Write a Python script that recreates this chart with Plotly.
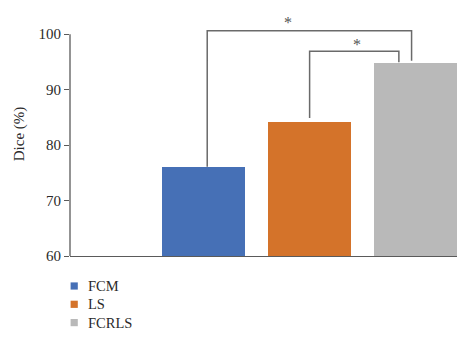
import plotly.graph_objects as go

# Dice scores per segmentation method
methods = ["FCM", "LS", "FCRLS"]
dice = [76.1, 84.1, 94.8]
colors = ["#4670b6", "#d4732a", "#b9b9b9"]
yticks = [60, 70, 80, 90, 100]

# Significance brackets: left method, right method, bar height, left foot, right foot,
# star x position and star baseline
brackets = [
    dict(a="FCM", b="FCRLS", top=100.6, ya=76.1, yb=95.2, sx=1.792, sy=100.27),
    dict(a="LS", b="FCRLS", top=96.9, ya=84.9, yb=94.95, sx=2.444, sy=96.24),
]

pos = {m: i + 1 for i, m in enumerate(methods)}
fig = go.Figure()

for m, v, c in zip(methods, dice, colors):
    fig.add_trace(go.Bar(x=[pos[m]], y=[v], width=0.784, marker_color=c, name=m,
                         marker_line_width=0, showlegend=False, hoverinfo="skip"))

font = "Liberation Serif"
line_col = "#5a5a5a"
txt_col = "#2a2a2a"

# left axis line drawn only up to the top tick
fig.add_shape(type="line", xref="paper", yref="y", x0=0, x1=0, y0=60, y1=100,
              line=dict(color=line_col, width=1.3))

for br in brackets:
    if br["a"] == "FCM":
        xa, xb = pos[br["a"]] + 0.033, pos[br["b"]] - 0.037
    else:
        xa, xb = pos[br["a"]], pos[br["b"]] - 0.157
    fig.add_trace(go.Scatter(x=[xa, xa, xb, xb],
                             y=[br["ya"], br["top"], br["top"], br["yb"]], mode="lines",
                             line=dict(color="#6a6a6a", width=1.5), showlegend=False,
                             hoverinfo="skip"))
    fig.add_annotation(x=br["sx"], y=br["sy"], text="*", showarrow=False,
                       yanchor="bottom", font=dict(family=font, size=16, color="#555555"))

# legend below the axes: small square swatch + label per method
plot_w, plot_h = 474 - 70 - 17, 345 - 12 - 89
for i, (m, c) in enumerate(zip(methods, colors)):
    cy = (256 - (286 + 18.3 * i)) / plot_h
    half = 3.6 / plot_h
    fig.add_shape(type="rect", xref="paper", yref="paper",
                  x0=0.6 / plot_w, x1=7.8 / plot_w, y0=cy - half, y1=cy + half,
                  fillcolor=c, line_width=0)
    fig.add_annotation(xref="paper", yref="paper", x=16 / plot_w, y=cy, text=m,
                       xanchor="left", yanchor="middle", showarrow=False,
                       font=dict(family=font, size=14.5, color=txt_col))

fig.update_layout(
    width=474, height=345,
    margin=dict(l=70, r=17, t=12, b=89, autoexpand=False),
    plot_bgcolor="white", paper_bgcolor="white",
    font=dict(family=font, size=15, color=txt_col),
    bargap=0, showlegend=False,
    xaxis=dict(range=[-0.263, 3.392], showticklabels=False, ticks="",
               showgrid=False, zeroline=False, showline=True,
               linecolor=line_col, linewidth=1.3),
    yaxis=dict(range=[60, 104], tickvals=yticks, ticks="outside", ticklen=5,
               tickcolor=line_col, showgrid=False, zeroline=False, showline=False,
               title=dict(text="Dice (%)", standoff=10,
                          font=dict(family=font, size=15, color=txt_col)),
               tickfont=dict(family=font, size=15, color=txt_col)),
)

fig.write_html("out.html")
